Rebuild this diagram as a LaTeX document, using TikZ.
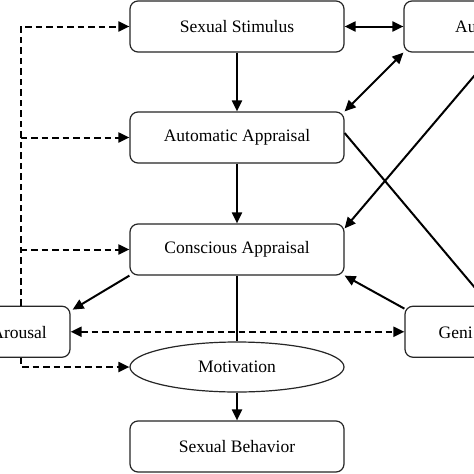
\documentclass[tikz,border=0pt]{standalone}
\usepackage{fontspec}
\setmainfont{Liberation Serif}
\usetikzlibrary{arrows.meta,shapes.geometric}
\begin{document}
\begin{tikzpicture}[x=1pt,y=-1pt,
  txt/.style={font=\fontsize{17.5pt}{21pt}\selectfont, inner sep=0pt},
  box/.style={draw=black!85, line width=1.2pt, rounded corners=8pt, minimum width=214pt, minimum height=51pt, inner sep=0pt, txt},
  ell/.style={ellipse, draw=black!85, line width=1.2pt, minimum width=214pt, minimum height=50pt, inner sep=0pt, txt},
  tip/.style={-{Triangle[length=11pt,width=10pt]}},
  tips/.style={{Triangle[length=11pt,width=10pt]}-{Triangle[length=11pt,width=10pt]}},
  conn/.style={line width=2pt, black},
  dconn/.style={line width=2pt, black, dash pattern=on 6.5pt off 4pt}
]
\useasboundingbox (0,0) rectangle (474,474);
\clip (0,0) rectangle (474,474);
\fill[white] (0,0) rectangle (474,474);

% nodes
\node[box] (ss) at (237,26.5) {Sexual Stimulus};
\node[box] (aa) at (237,137.5) {Automatic Appraisal};
\node[box] (ca) at (237,249.5) {Conscious Appraisal};
\node[ell] (mo) at (237,367) {Motivation};
\node[box] (sb) at (237,446.5) {Sexual Behavior};
\node[box] (au) at (511,26.5) {};
\node[txt, anchor=west] (aulabel) at (455,27) {Au};
\node[box] (ar) at (-37,331.75) {};
\node[txt, anchor=east] (arlabel) at (47,333) {Arousal};
\node[box] (ge) at (512,331.75) {};
\node[txt, anchor=west] (gelabel) at (438.5,333) {Geni};

\coordinate (lx) at (20.7,0);

% solid connectors
\draw[conn, tip] (ss) -- (aa);
\draw[conn, tip] (aa) -- (ca);
\draw[conn] (ca) -- (mo);
\draw[conn, tip] (mo) -- (sb);
\draw[conn, tips] (ss.east) -- (au.west);
\draw[conn, tips] (au.south west) -- (aa.north east);
\draw[conn, tip] ([yshift=4.5pt]aa.east) -- ([xshift=-22pt]ge.north);
\draw[conn, tip] ([xshift=-17pt]au.south) -- ([yshift=-5pt]ca.north east);
\draw[conn, tip] ([yshift=-3pt]ge.north west) -- (ca.south east);
\draw[conn, tip] (ca.south west) -- ([xshift=2pt,yshift=-4pt]ar.north east);

% dashed connectors
\draw[dconn, tip] (ar.north -| lx) |- (ss.west);
\draw[dconn, tip] (aa.west -| lx) -- (aa.west);
\draw[dconn, tip] (ca.west -| lx) -- (ca.west);
\draw[dconn, tip] (ar.south -| lx) |- (mo.west);
\draw[dconn, tips] (ar.east) -- (ge.west);
\end{tikzpicture}
\end{document}
